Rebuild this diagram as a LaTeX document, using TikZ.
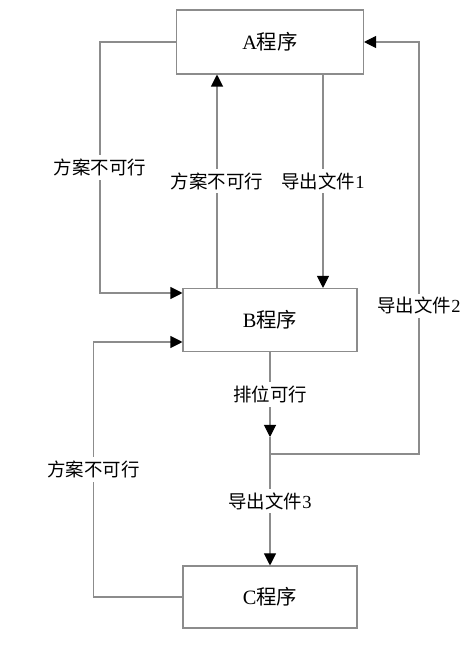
\documentclass[tikz,border=0pt]{standalone}
\usepackage{fontspec}
\setmainfont{Liberation Serif}
\newfontfamily\cjk{Noto Sans CJK SC}
\usetikzlibrary{arrows.meta, calc}
\tikzset{
  prog/.style={
    rectangle, draw=black!45, fill=white, line width=0.6pt,
    minimum width=3.48cm, minimum height=1.26cm,
    align=center, font=\fontsize{11.6}{13}\selectfont, inner sep=2pt,
  },
  flow/.style={
    -{Triangle[length=2.4mm, width=2.4mm, black]}, line width=0.6pt, draw=black!45,
  },
  lbl/.style={
    fill=white, inner sep=2pt, font=\fontsize{10.5}{12}\selectfont,
  }
}
\begin{document}
\begin{tikzpicture}

  \useasboundingbox (0,0) rectangle (9.48,12.96);

  \node[prog, minimum width=3.74cm, minimum height=1.28cm] (A) at (5.40,12.12) {A{\cjk 程序}};
  \node[prog] (B) at (5.40,6.56) {B{\cjk 程序}};
  \node[prog, minimum height=1.24cm] (C) at (5.40,1.02) {C{\cjk 程序}};

  \coordinate (split) at (5.40,4.22);
  \coordinate (join) at (5.40,3.88);

  % A and B loop
  \draw[flow] (A.west) -- ++(-1.52,0) |- ([yshift=0.54cm]B.west)
    node[lbl, pos=0.25] (l1) {\cjk 方案不可行};
  \draw[flow] ([xshift=-1.06cm]B.north) -- ([xshift=-1.06cm]A.south)
    node[lbl, midway] (l2) {\cjk 方案不可行};
  \draw[flow] ([xshift=1.06cm]A.south) -- ([xshift=1.06cm]B.north)
    node[lbl, midway] (l3) {{\cjk 导出文件}1};

  % B down to C
  \draw[flow] (B.south) -- (split)
    node[lbl, midway] (l4) {\cjk 排位可行};
  \draw[flow] (split) -- (C.north)
    node[lbl, midway] (l5) {{\cjk 导出文件}3};

  % back to A
  \draw[flow] (join) -- ++(2.98,0) |- (A.east)
    node[lbl, pos=0.18] (l6) {{\cjk 导出文件}2};

  % C back to B
  \draw[flow] (C.west) -- ++(-1.78,0) |- ([yshift=-0.44cm]B.west)
    node[lbl, pos=0.25] (l7) {\cjk 方案不可行};

\end{tikzpicture}
\end{document}
